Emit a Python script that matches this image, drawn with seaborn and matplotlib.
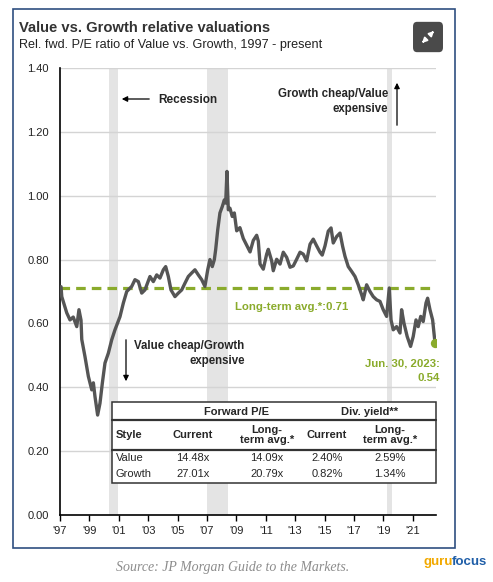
import numpy as np
import pandas as pd
import matplotlib.pyplot as plt
import seaborn as sns
from matplotlib.patches import Rectangle, FancyBboxPatch
from matplotlib.lines import Line2D

# relative fwd P/E of Value vs Growth
years = [1997.07, 1997.12, 1997.46, 1997.68, 1997.90, 1998.14, 1998.29, 1998.43, 1998.48, 1998.70,
         1998.93, 1999.16, 1999.27, 1999.38, 1999.56, 1999.72, 1999.88, 2000.06, 2000.29, 2000.52,
         2000.74, 2001.08, 2001.31, 2001.54, 2001.88, 2002.10, 2002.33, 2002.56, 2002.78, 2003.12,
         2003.35, 2003.58, 2003.80, 2004.03, 2004.19, 2004.37, 2004.55, 2004.82, 2005.05, 2005.28,
         2005.50, 2005.73, 2005.96, 2006.18, 2006.41, 2006.64, 2006.86, 2007.05, 2007.20, 2007.36,
         2007.50, 2007.59, 2007.73, 2007.88, 2008.04, 2008.18, 2008.27, 2008.36, 2008.45, 2008.56,
         2008.72, 2008.86, 2009.02, 2009.24, 2009.47, 2009.70, 2009.93, 2010.15, 2010.38, 2010.49,
         2010.61, 2010.83, 2011.06, 2011.17, 2011.40, 2011.51, 2011.74, 2011.97, 2012.19, 2012.42,
         2012.65, 2012.87, 2013.10, 2013.33, 2013.55, 2013.78, 2014.01, 2014.23, 2014.46, 2014.69,
         2014.84, 2015.03, 2015.25, 2015.44, 2015.59, 2015.82, 2016.05, 2016.23, 2016.39, 2016.61,
         2016.84, 2017.07, 2017.29, 2017.52, 2017.63, 2017.86, 2018.09, 2018.31, 2018.54, 2018.77,
         2018.99, 2019.22, 2019.40, 2019.52, 2019.67, 2019.90, 2020.13, 2020.24, 2020.40, 2020.62,
         2020.85, 2021.03, 2021.22, 2021.37, 2021.54, 2021.71, 2021.90, 2022.01, 2022.17, 2022.35,
         2022.51]
ratio = [0.715, 0.684, 0.633, 0.611, 0.620, 0.590, 0.643, 0.610, 0.550, 0.496,
         0.434, 0.392, 0.414, 0.371, 0.313, 0.350, 0.413, 0.476, 0.507, 0.549,
         0.580, 0.621, 0.664, 0.700, 0.716, 0.737, 0.731, 0.695, 0.705, 0.747,
         0.731, 0.752, 0.742, 0.768, 0.778, 0.747, 0.705, 0.684, 0.695, 0.705,
         0.726, 0.747, 0.758, 0.768, 0.752, 0.737, 0.716, 0.768, 0.800, 0.778,
         0.800, 0.831, 0.893, 0.946, 0.966, 0.987, 0.977, 1.076, 0.956, 0.961,
         0.935, 0.946, 0.890, 0.900, 0.866, 0.845, 0.824, 0.860, 0.876, 0.858,
         0.786, 0.770, 0.817, 0.832, 0.796, 0.765, 0.801, 0.786, 0.823, 0.807,
         0.776, 0.780, 0.801, 0.823, 0.817, 0.796, 0.848, 0.864, 0.843, 0.823,
         0.814, 0.843, 0.889, 0.899, 0.852, 0.872, 0.883, 0.841, 0.810, 0.778,
         0.763, 0.747, 0.721, 0.690, 0.674, 0.721, 0.700, 0.684, 0.674, 0.669,
         0.643, 0.622, 0.711, 0.611, 0.580, 0.590, 0.570, 0.643, 0.601, 0.559,
         0.528, 0.559, 0.611, 0.590, 0.622, 0.606, 0.664, 0.679, 0.643, 0.611,
         0.540]

recessions = [(2000.33, 2000.92), (2007.02, 2008.45), (2019.22, 2019.56)]
long_term_avg = 0.71

y_ticks = [0.0, 0.2, 0.4, 0.6, 0.8, 1.0, 1.2, 1.4]
x_tick_years = [1997, 1999, 2001, 2003, 2005, 2007, 2009, 2011, 2013, 2015, 2017, 2019, 2021]
x_tick_labels = ["'97", "'99", "'01", "'03", "'05", "'07", "'09", "'11", "'13", "'15", "'17", "'19", "'21"]

table_groups = ['Forward P/E', 'Div. yield**']
table_cols = ['Style', 'Current', 'Long-\nterm avg.*', 'Current', 'Long-\nterm avg.*']
table_rows = [['Value', '14.48x', '14.09x', '2.40%', '2.59%'],
              ['Growth', '27.01x', '20.79x', '0.82%', '1.34%']]

GREEN = '#8aab2c'
LINE = '#555555'

sns.set_theme(style='white')
plt.rcParams['font.family'] = ['Liberation Sans', 'DejaVu Sans']

W, H = 493, 582
fig = plt.figure(figsize=(W / 100, H / 100), dpi=100)

def fx(px):
    return px / W

def fy(py):
    return 1 - py / H

ax = fig.add_axes([fx(60), fy(515), fx(436) - fx(60), fy(68) - fy(515)])

for start, end in recessions:
    ax.axvspan(start, end, color='#e4e4e4', lw=0, zorder=0)

for t in y_ticks[1:]:
    ax.axhline(t, color='#d4d4d4', lw=1, zorder=1)

ax.axhline(long_term_avg, color=GREEN, lw=2.3, dashes=(3, 1.9), zorder=2)

df = pd.DataFrame({'year': years, 'ratio': ratio})
sns.lineplot(data=df, x='year', y='ratio', ax=ax, color=LINE, lw=2.4, zorder=3)
ax.scatter([years[-1]], [ratio[-1]], s=45, color=GREEN, zorder=4, lw=0)

ax.set_xlim(1997, 2022.58)
ax.set_ylim(0, 1.4)
ax.set_yticks(y_ticks)
ax.set_yticklabels([f'{t:.2f}' for t in y_ticks])
ax.set_xticks(x_tick_years)
ax.set_xticklabels(x_tick_labels)
ax.set_xlabel('')
ax.set_ylabel('')
ax.tick_params(axis='y', length=0, pad=8, labelsize=8, labelcolor='#222222')
ax.tick_params(axis='x', length=4, width=1, direction='out', pad=4, labelsize=8,
               labelcolor='#222222', color='black', bottom=True)
for side in ['top', 'right']:
    ax.spines[side].set_visible(False)
for side in ['left', 'bottom']:
    ax.spines[side].set_color('black')
    ax.spines[side].set_linewidth(1.2)

# titles
fig.text(fx(19), fy(28), 'Value vs. Growth relative valuations', fontsize=10.6,
         fontweight='bold', color='#333333', va='center')
fig.text(fx(19), fy(45), 'Rel. fwd. P/E ratio of Value vs. Growth, 1997 - present',
         fontsize=9.1, color='#222222', va='center')

# annotations
fig.text(fx(158), fy(100), 'Recession', fontsize=8.5, fontweight='bold', va='center')
ax.annotate('', xy=(fx(119), fy(99)), xytext=(fx(152), fy(99)), xycoords='figure fraction',
            arrowprops=dict(arrowstyle='-|>', color='black', lw=0.9, mutation_scale=8))
fig.text(fx(388), fy(94), 'Growth cheap/Value', fontsize=8.3, fontweight='bold', va='center', ha='right')
fig.text(fx(388), fy(109), 'expensive', fontsize=8.3, fontweight='bold', va='center', ha='right')
ax.annotate('', xy=(fx(397), fy(80)), xytext=(fx(397), fy(128)), xycoords='figure fraction',
            arrowprops=dict(arrowstyle='-|>', color='black', lw=0.9, mutation_scale=8))
fig.text(fx(134), fy(346), 'Value cheap/Growth', fontsize=8.3, fontweight='bold', va='center')
fig.text(fx(245), fy(361), 'expensive', fontsize=8.3, fontweight='bold', va='center', ha='right')
ax.annotate('', xy=(fx(126), fy(384)), xytext=(fx(126), fy(337)), xycoords='figure fraction',
            arrowprops=dict(arrowstyle='-|>', color='black', lw=0.9, mutation_scale=8))
fig.text(fx(292), fy(307), f'Long-term avg.*:{long_term_avg:.2f}', fontsize=8.2,
         fontweight='bold', color=GREEN, va='center', ha='center')
fig.text(fx(440), fy(363), 'Jun. 30, 2023:', fontsize=8.2, fontweight='bold', color=GREEN,
         va='center', ha='right')
fig.text(fx(440), fy(378), f'{ratio[-1]:.2f}', fontsize=8.2, fontweight='bold', color=GREEN,
         va='center', ha='right')

# valuation table
fig.add_artist(Rectangle((fx(112), fy(483)), fx(436) - fx(112), fy(402) - fy(483),
                         transform=fig.transFigure, facecolor='white', edgecolor='#333333',
                         lw=1.1, zorder=5))
for py in [420, 450]:
    fig.add_artist(Line2D([fx(112), fx(436)], [fy(py), fy(py)], transform=fig.transFigure,
                          color='#333333', lw=1.6, zorder=6))
tkw = dict(fontsize=8, zorder=7, va='center')
fig.text(fx(237), fy(412), table_groups[0], ha='center', fontweight='bold', **tkw)
fig.text(fx(370), fy(412), table_groups[1], ha='center', fontweight='bold', **tkw)
col_x = [116, 193, 267, 327, 390]
for i, (cx, label) in enumerate(zip(col_x, table_cols)):
    fig.text(fx(cx), fy(435), label, ha='left' if i == 0 else 'center', fontweight='bold',
             linespacing=1.0, **tkw)
for row, py in zip(table_rows, [458, 474]):
    for i, (cx, val) in enumerate(zip(col_x, row)):
        fig.text(fx(cx), fy(py), val, ha='left' if i == 0 else 'center', **tkw)

# frame, expand icon, source and logo
fig.add_artist(Rectangle((fx(13), fy(548)), fx(455) - fx(13), fy(9) - fy(548),
                         transform=fig.transFigure, fill=False, edgecolor='#2f4f80', lw=1.2))
fig.add_artist(FancyBboxPatch((fx(414), fy(51)), fx(442) - fx(414), fy(23) - fy(51),
                              boxstyle='round,pad=0.002,rounding_size=0.008',
                              transform=fig.transFigure, facecolor='#4a4a4a', edgecolor='none',
                              zorder=-1))
ax.annotate('', xy=(fx(436), fy(29)), xytext=(fx(430), fy(35)), xycoords='figure fraction',
            arrowprops=dict(arrowstyle='-|>', color='white', lw=1.3, mutation_scale=7))
ax.annotate('', xy=(fx(420), fy(45)), xytext=(fx(426), fy(39)), xycoords='figure fraction',
            arrowprops=dict(arrowstyle='-|>', color='white', lw=1.3, mutation_scale=7))
fig.text(fx(233), fy(568), 'Source: JP Morgan Guide to the Markets.', fontsize=10,
         family=['Liberation Serif', 'DejaVu Serif'], style='italic', color='#8c8c8c',
         ha='center', va='center')
fig.text(fx(423), fy(562), 'guru', fontsize=9.5, fontweight='bold', color='#f2a900', va='center')
fig.text(fx(452), fy(562), 'focus', fontsize=9.5, fontweight='bold', color='#1f5ea8', va='center')

fig.savefig('out.png', dpi=100)
